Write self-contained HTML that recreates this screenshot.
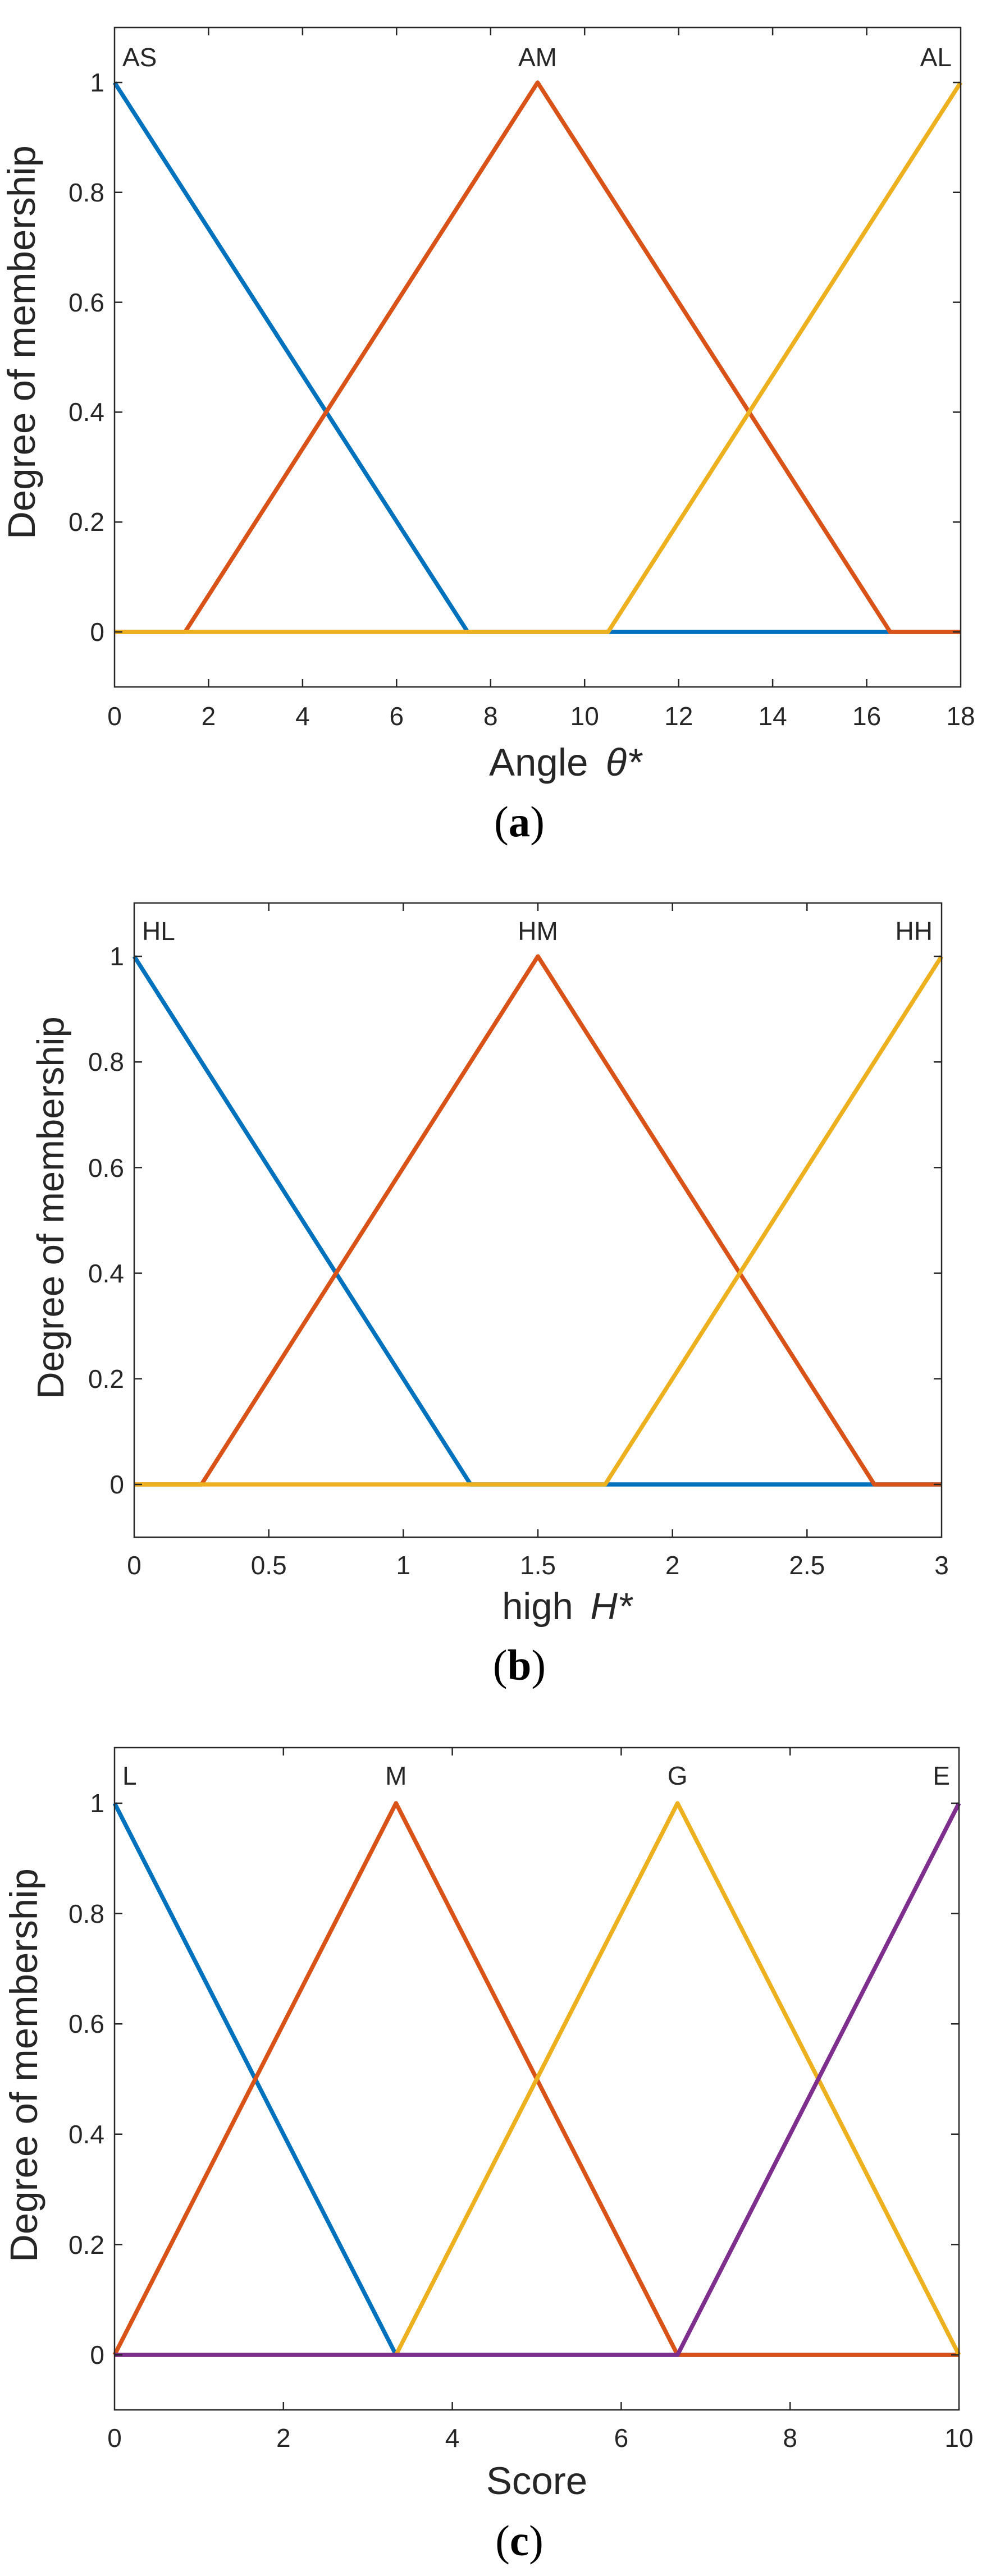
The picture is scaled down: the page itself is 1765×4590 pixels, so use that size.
<!DOCTYPE html>
<html><head><meta charset="utf-8"><style>
html,body{margin:0;padding:0;background:#fff}
svg{display:block}
.t{font-family:"Liberation Sans",sans-serif;fill:#262626}
.c{font-family:"Liberation Serif",serif;font-weight:normal;fill:#000}
.c tspan.b{font-weight:bold}
</style></head><body>
<svg width="1765" height="4590" viewBox="0 0 1765 4590" xmlns="http://www.w3.org/2000/svg">
<rect width="1765" height="4590" fill="#fff"/>

<g>
<g fill="none" stroke-width="7.5" stroke-linejoin="round">
<polyline stroke="#0072BD" points="204,147 832.9,1126 1711,1126"/>
<polyline stroke="#D95319" points="204,1126 329.6,1126 957.5,147 1585.4,1126 1711,1126"/>
<polyline stroke="#EDB120" points="204,1126 1083,1126 1711,147"/>
</g>
<rect x="204" y="49" width="1507" height="1175" fill="none" stroke="#262626" stroke-width="2.5"/>
<g stroke="#262626" stroke-width="2.5">
<path d="M371.4,1224v-14M538.9,1224v-14M706.3,1224v-14M873.8,1224v-14M1041.2,1224v-14M1208.7,1224v-14M1376.1,1224v-14M1543.6,1224v-14"/>
<path d="M371.4,49v14M538.9,49v14M706.3,49v14M873.8,49v14M1041.2,49v14M1208.7,49v14M1376.1,49v14M1543.6,49v14"/>
<path d="M204,1126h14M204,930.2h14M204,734.4h14M204,538.6h14M204,342.8h14M204,147h14"/>
<path d="M1711,1126h-14M1711,930.2h-14M1711,734.4h-14M1711,538.6h-14M1711,342.8h-14M1711,147h-14"/>
</g>
<g class="t" font-size="46" text-anchor="middle">
<text x="204" y="1292">0</text><text x="371.4" y="1292">2</text><text x="538.9" y="1292">4</text><text x="706.3" y="1292">6</text><text x="873.8" y="1292">8</text><text x="1041.2" y="1292">10</text><text x="1208.7" y="1292">12</text><text x="1376.1" y="1292">14</text><text x="1543.6" y="1292">16</text><text x="1711" y="1292">18</text>
</g>
<g class="t" font-size="46" text-anchor="end">
<text x="186" y="1142">0</text><text x="186" y="946">0.2</text><text x="186" y="750">0.4</text><text x="186" y="555">0.6</text><text x="186" y="359">0.8</text><text x="186" y="163">1</text>
</g>
<g class="t" font-size="46" fill="#000">
<text x="218" y="118">AS</text><text x="957.5" y="118" text-anchor="middle">AM</text><text x="1695" y="118" text-anchor="end">AL</text>
</g>
<text class="t" font-size="69" x="86" y="634" text-anchor="middle" transform="rotate(-90 62 634)">Degree of membership</text>
<text class="t" font-size="69" x="1007" y="1382" text-anchor="middle">Angle <tspan font-style="italic" dx="12">θ*</tspan></text>
<text class="c" font-size="77" x="925" y="1490" text-anchor="middle">(<tspan class="b">a</tspan>)</text>
</g>

<g>
<g fill="none" stroke-width="7.5" stroke-linejoin="round">
<polyline stroke="#0072BD" points="239,1704 838.2,2645 1677,2645"/>
<polyline stroke="#D95319" points="239,2645 358.8,2645 958,1704 1557.2,2645 1677,2645"/>
<polyline stroke="#EDB120" points="239,2645 1077.8,2645 1677,1704"/>
</g>
<rect x="239" y="1609" width="1438" height="1130" fill="none" stroke="#262626" stroke-width="2.5"/>
<g stroke="#262626" stroke-width="2.5">
<path d="M478.7,2739v-14M718.3,2739v-14M958,2739v-14M1197.7,2739v-14M1437.3,2739v-14"/>
<path d="M478.7,1609v14M718.3,1609v14M958,1609v14M1197.7,1609v14M1437.3,1609v14"/>
<path d="M239,2645h14M239,2456.8h14M239,2268.6h14M239,2080.4h14M239,1892.2h14M239,1704h14"/>
<path d="M1677,2645h-14M1677,2456.8h-14M1677,2268.6h-14M1677,2080.4h-14M1677,1892.2h-14M1677,1704h-14"/>
</g>
<g class="t" font-size="46" text-anchor="middle">
<text x="239" y="2805">0</text><text x="478.7" y="2805">0.5</text><text x="718.3" y="2805">1</text><text x="958" y="2805">1.5</text><text x="1197.7" y="2805">2</text><text x="1437.3" y="2805">2.5</text><text x="1677" y="2805">3</text>
</g>
<g class="t" font-size="46" text-anchor="end">
<text x="221" y="2661">0</text><text x="221" y="2473">0.2</text><text x="221" y="2285">0.4</text><text x="221" y="2097">0.6</text><text x="221" y="1908">0.8</text><text x="221" y="1720">1</text>
</g>
<g class="t" font-size="46" fill="#000">
<text x="253" y="1675">HL</text><text x="958" y="1675" text-anchor="middle">HM</text><text x="1661" y="1675" text-anchor="end">HH</text>
</g>
<text class="t" font-size="67" x="137" y="2176" text-anchor="middle" transform="rotate(-90 113 2176)">Degree of membership</text>
<text class="t" font-size="67" x="1010" y="2885" text-anchor="middle">high <tspan font-style="italic" dx="12">H*</tspan></text>
<text class="c" font-size="77" x="925" y="2993" text-anchor="middle">(<tspan class="b">b</tspan>)</text>
</g>

<g>
<g fill="none" stroke-width="7.5" stroke-linejoin="round">
<polyline stroke="#0072BD" points="204,3213 705.3,4196 1708,4196"/>
<polyline stroke="#D95319" points="204,4196 705.3,3213 1206.7,4196 1708,4196"/>
<polyline stroke="#EDB120" points="204,4196 705.3,4196 1206.7,3213 1708,4196"/>
<polyline stroke="#7E2F8E" points="204,4196 1206.7,4196 1708,3213"/>
</g>
<rect x="204" y="3114" width="1504" height="1180" fill="none" stroke="#262626" stroke-width="2.5"/>
<g stroke="#262626" stroke-width="2.5">
<path d="M504.8,4294v-14M805.6,4294v-14M1106.4,4294v-14M1407.2,4294v-14"/>
<path d="M504.8,3114v14M805.6,3114v14M1106.4,3114v14M1407.2,3114v14"/>
<path d="M204,4196h14M204,3999.4h14M204,3802.8h14M204,3606.2h14M204,3409.6h14M204,3213h14"/>
<path d="M1708,4196h-14M1708,3999.4h-14M1708,3802.8h-14M1708,3606.2h-14M1708,3409.6h-14M1708,3213h-14"/>
</g>
<g class="t" font-size="46" text-anchor="middle">
<text x="204" y="4360">0</text><text x="504.8" y="4360">2</text><text x="805.6" y="4360">4</text><text x="1106.4" y="4360">6</text><text x="1407.2" y="4360">8</text><text x="1708" y="4360">10</text>
</g>
<g class="t" font-size="46" text-anchor="end">
<text x="186" y="4212">0</text><text x="186" y="4016">0.2</text><text x="186" y="3819">0.4</text><text x="186" y="3622">0.6</text><text x="186" y="3426">0.8</text><text x="186" y="3229">1</text>
</g>
<g class="t" font-size="46" fill="#000">
<text x="218" y="3180">L</text><text x="705.3" y="3180" text-anchor="middle">M</text><text x="1206.7" y="3180" text-anchor="middle">G</text><text x="1692" y="3180" text-anchor="end">E</text>
</g>
<text class="t" font-size="69" x="90" y="3704" text-anchor="middle" transform="rotate(-90 66 3704)">Degree of membership</text>
<text class="t" font-size="69" x="956" y="4444" text-anchor="middle">Score</text>
<text class="c" font-size="77" x="925" y="4553" text-anchor="middle">(<tspan class="b">c</tspan>)</text>
</g>
</svg>
</body></html>
